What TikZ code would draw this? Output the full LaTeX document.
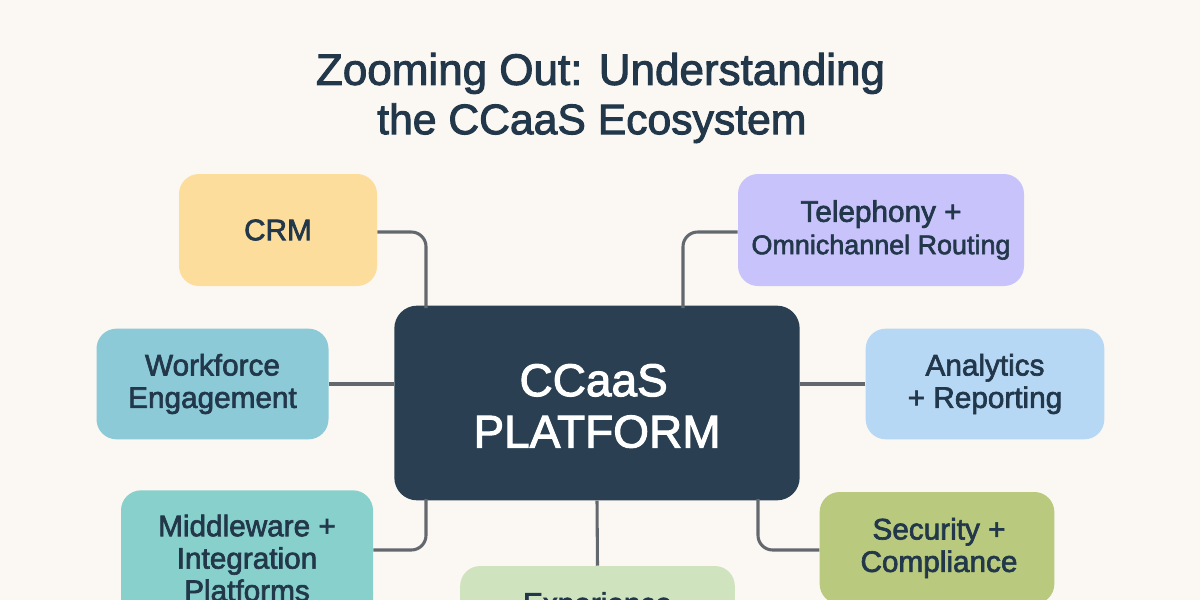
\documentclass[tikz,border=0pt]{standalone}
\usepackage{fontspec}
\setmainfont{Liberation Sans}[FakeBold=2.2]
\definecolor{bgc}{HTML}{FBF8F3}
\definecolor{ink}{HTML}{22384A}
\definecolor{linec}{HTML}{63686E}
\definecolor{centerc}{HTML}{2A4052}
\definecolor{crmc}{HTML}{FCDD9C}
\definecolor{telc}{HTML}{C8C3FA}
\definecolor{wfc}{HTML}{8CCAD8}
\definecolor{anc}{HTML}{B6D8F5}
\definecolor{midc}{HTML}{87D0CC}
\definecolor{secc}{HTML}{B9C97E}
\definecolor{expc}{HTML}{D0E3BF}
\tikzset{
 px/.style={x=0.75pt,y=-0.75pt},
 boxn/.style={rounded corners=15pt,inner sep=0pt,align=center,text=ink,font=\fontsize{22.3pt}{24.3pt}\selectfont},
 link/.style={draw=linec,line width=2.3pt,rounded corners=11pt},
 straight/.style={draw=linec,line width=2.3pt},
 txtn/.style={text=ink,inner sep=0pt,align=center,font=\fontsize{22.3pt}{24.3pt}\selectfont},
}
\begin{document}
\begin{tikzpicture}[px]
\path[use as bounding box,fill=bgc] (0,0) rectangle (1200,600);
\node[text=ink,font=\fontsize{33pt}{37pt}\selectfont,align=center] (title) at (600.5,98) {Zooming Out: Understanding\\\hspace*{-13pt}{\fontsize{32pt}{37pt}\selectfont the CCaaS Ecosystem}};
\coordinate (a1) at (426,308);
\coordinate (a2) at (683,308);
\coordinate (a3) at (426,499);
\coordinate (a4) at (758,499);
\coordinate (j1) at (426,232);
\coordinate (j2) at (683,232);
\coordinate (j3) at (426,550);
\coordinate (j4) at (758,550);
\node[boxn,fill=crmc,minimum width=148.5pt,minimum height=84pt] (crm) at (278,230) {CRM};
\node[boxn,fill=telc,minimum width=214.5pt,minimum height=84pt] (tel) at (881,230) {Telephony +\\{\fontsize{20.2pt}{24.3pt}\selectfont Omnichannel Routing}};
\node[boxn,fill=wfc,minimum width=174pt,minimum height=83pt] (wf) at (212.5,384) {Workforce\\Engagement};
\node[boxn,fill=anc,minimum width=179pt,minimum height=83pt] (an) at (985,384) {Analytics\\+ Reporting};
\node[boxn,fill=midc,minimum width=189pt,minimum height=100pt] (mid) at (247,557) {};
\node[txtn] (midt) at (247,558) {Middleware +\\Integration\\Platforms};
\node[boxn,fill=secc,minimum width=176pt,minimum height=84pt] (sec) at (937,548) {\hspace*{3pt}Security +\\\hspace*{3pt}Compliance};
\node[boxn,fill=expc,minimum width=206pt,minimum height=84pt] (exp) at (597.5,622) {};
\node[txtn] (expt) at (597.5,606) {Experience};
\node[fill=centerc,rounded corners=17pt,minimum width=304pt,minimum height=146pt,inner sep=0pt] (core) at (597,403) {};
\node[text=white,inner sep=0pt,align=center,font=\fontsize{34.5pt}{38.5pt}\selectfont] (coret) at (597,406) {\hspace*{-5pt}CCaaS\\PLATFORM};
\draw[link] (crm.east |- j1) -- (j1) -- (a1);
\draw[link] (tel.west |- j2) -- (j2) -- (a2);
\draw[straight] (wf.east) -- (wf.east -| core.west);
\draw[straight] (an.west) -- (an.west -| core.east);
\draw[link] (mid.east |- j3) -- (j3) -- (a3);
\draw[link] (sec.west |- j4) -- (j4) -- (a4);
\draw[straight] (core.south) -- (exp.north);
\end{tikzpicture}
\end{document}
